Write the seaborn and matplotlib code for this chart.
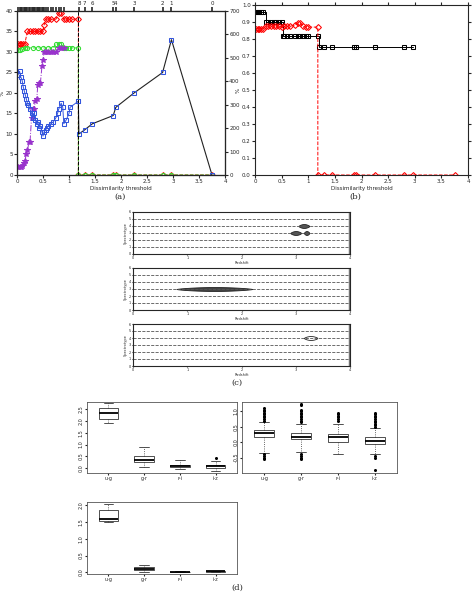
import numpy as np
import pandas as pd
import matplotlib
matplotlib.use("Agg")
import matplotlib.pyplot as plt
import seaborn as sns

sns.set_style("ticks")
plt.rcParams['font.family'] = ['DejaVu Sans']

# ---------- data (a) ----------
red_x = [0.02,0.05,0.08,0.12,0.15,0.2,0.25,0.3,0.35,0.4,0.45,0.5,0.52,0.55,0.6,0.65,0.75,0.8,0.85,0.9,0.95,1.0,1.05,1.18,1.18,1.3,1.45,1.85,1.9,2.25,2.8,2.97,3.75]
red_y = [32,32,32,32,32,35,35,35,35,35,35,35,36.5,38,38,38,38,39.5,39.5,38,38,38,38,38,0,0,0,0,0,0,0,0,0]
green_x = [0.02,0.05,0.1,0.15,0.2,0.3,0.4,0.5,0.6,0.7,0.75,0.8,0.85,0.9,0.95,1.0,1.05,1.18,1.18,1.3,1.45,1.85,1.9,2.25,2.8,2.97,3.75]
green_y = [30.5,30.5,30.8,31,31,31,31,31,31,31,32,32,32,31,31,31,31,31,0,0,0,0,0,0,0,0,0]
purple_x = [0.02,0.05,0.08,0.1,0.13,0.15,0.18,0.2,0.23,0.25,0.28,0.3,0.33,0.35,0.38,0.4,0.43,0.45,0.48,0.5,0.52,0.55,0.6,0.65,0.7,0.75,0.8,0.85,0.9]
purple_y = [2,2,2,2.2,3,3.5,5,6,8,8,14,16,16,18,18.5,22,22.5,22.5,26.5,28,30,30,30,30,30,30,31,31,31]
blue_x = [0.02,0.05,0.07,0.1,0.12,0.14,0.16,0.18,0.2,0.22,0.25,0.28,0.3,0.32,0.35,0.38,0.4,0.42,0.45,0.48,0.5,0.52,0.55,0.58,0.6,0.65,0.7,0.75,0.78,0.8,0.85,0.88,0.9,0.95,1.0,1.02,1.18]
blue_y = [24.5,25.3,24,23,21.5,20.5,19.5,18.5,17.5,17,16,15,14,15,13.5,12.5,13,11.5,12,10.5,9.5,10.5,11,11.5,12,12.5,13,14,15,16,17.5,16.5,12.5,13.5,15,16.5,18]
black_x = [1.18,1.19,1.3,1.45,1.85,1.9,2.25,2.8,2.97,3.75]
black_y = [18,10,11,12.5,14.5,16.5,20,25,33,0]
top_ticks = [1.19,1.3,1.45,1.85,1.9,2.25,2.8,2.97,3.75]
top_labels = ['8','7','6','5','4','3','2','1','0']

# ---------- data (b) ----------
bb_x = [0.02,0.05,0.08,0.12,0.15,0.2,0.25,0.3,0.35,0.4,0.45,0.5,0.52,0.55,0.6,0.65,0.75,0.8,0.85,0.9,0.95,1.0,1.18,1.2,1.3,1.45,1.85,1.9,2.25,2.8,2.97]
bb_y = [0.96,0.96,0.96,0.96,0.96,0.90,0.90,0.90,0.90,0.90,0.90,0.90,0.82,0.82,0.82,0.82,0.815,0.815,0.815,0.815,0.815,0.815,0.815,0.75,0.75,0.75,0.75,0.75,0.75,0.75,0.75]
br_x = [0.02,0.05,0.08,0.12,0.15,0.2,0.25,0.3,0.35,0.4,0.45,0.5,0.55,0.6,0.65,0.75,0.8,0.85,0.9,0.95,1.0,1.18,1.18,1.3,1.45,1.85,1.9,2.25,2.8,2.97,3.75]
br_y = [0.86,0.86,0.86,0.86,0.86,0.875,0.875,0.875,0.875,0.875,0.875,0.87,0.875,0.875,0.875,0.88,0.895,0.895,0.875,0.87,0.87,0.87,0,0,0,0,0,0,0,0,0]

# ---------- data (c) ----------
c_level = [[4,3,3],[3],[4]]
c_start = [[3.05,2.9,3.15],[0.8],[3.15]]
c_end = [[3.25,3.1,3.25],[2.2],[3.4]]
c_fill = ['#555555','#444444','#ffffff']

# ---------- data (d) ----------
cats = ['u-g','g-r','r-i','i-z']
d1 = {'u-g':[1.9,2.1,2.35,2.55,2.75],'g-r':[0.05,0.25,0.35,0.5,0.9],'r-i':[-0.05,0.05,0.1,0.15,0.35],'i-z':[-0.1,0.0,0.08,0.15,0.3]}
d1_out = {'i-z':[0.45]}
d2 = {'u-g':[-0.35,0.15,0.28,0.4,0.65],'g-r':[-0.33,0.1,0.18,0.3,0.6],'r-i':[-0.4,0.0,0.17,0.27,0.6],'i-z':[-0.4,-0.05,0.05,0.15,0.45]}
d2_out = {'u-g':[0.7,0.75,0.8,0.85,0.9,0.95,1.0,1.05,1.1,-0.4,-0.45,-0.5,-0.55],'g-r':[0.65,0.7,0.75,0.8,0.85,0.9,0.95,1.0,1.05,1.2,1.25,-0.4,-0.45,-0.5,-0.55],
          'r-i':[0.7,0.75,0.8,0.85,0.9,0.95],'i-z':[0.5,0.55,0.6,0.65,0.7,0.75,0.8,0.85,0.9,0.95,-0.45,-0.5,-0.9]}
d3 = {'u-g':[1.5,1.52,1.6,1.85,2.03],'g-r':[0.0,0.06,0.1,0.15,0.22],'r-i':[0.0,0.005,0.01,0.02,0.03],'i-z':[0.01,0.02,0.025,0.035,0.05]}

W, H = 474, 594
fig = plt.figure(figsize=(W/100, H/100), dpi=100)
def ax_at(x0, y0, x1, y1):
    return fig.add_axes([x0/W, 1-y1/H, (x1-x0)/W, (y1-y0)/H])

fs = 4
ms = 3
# ----- (a) -----
a = ax_at(17, 11, 225, 175)
sns.lineplot(x=red_x, y=red_y, ax=a, color='red', marker='D', markersize=ms, markerfacecolor='none', markeredgecolor='red', linestyle='--', lw=0.7, sort=False, estimator=None)
sns.lineplot(x=green_x, y=green_y, ax=a, color='#33dd33', marker='o', markersize=ms, markerfacecolor='none', markeredgecolor='#33dd33', linestyle='--', lw=0.7, sort=False, estimator=None)
sns.lineplot(x=purple_x, y=purple_y, ax=a, color='#9933cc', marker='*', markersize=4, markerfacecolor='#9933cc', markeredgecolor='#9933cc', linestyle='-.', lw=0.7, sort=False, estimator=None)
sns.lineplot(x=blue_x, y=blue_y, ax=a, color='#3355dd', marker='s', markersize=ms, markerfacecolor='none', markeredgecolor='#3355dd', lw=0.7, sort=False, estimator=None)
sns.lineplot(x=black_x, y=black_y, ax=a, color='#222222', marker='s', markersize=ms, markerfacecolor='none', markeredgecolor='#3355dd', lw=0.8, sort=False, estimator=None)
a.axvline(1.18, color='k', ls='--', lw=0.7)
a.set_xlim(0, 4); a.set_ylim(0, 40)
a.set_xticks([0,0.5,1,1.5,2,2.5,3,3.5,4]); a.set_xticklabels(['0','0.5','1','1.5','2','2.5','3','3.5','4'])
a.set_yticks(range(0,45,5))
a.set_xlabel('Dissimilarity threshold', fontsize=fs, labelpad=1); a.set_ylabel('%', fontsize=fs, labelpad=1)
a.tick_params(labelsize=fs, length=2, pad=1)
ar = a.twinx(); ar.set_ylim(0, 700); ar.set_yticks(range(0,701,100)); ar.tick_params(labelsize=fs, length=2, pad=1)
at = a.twiny(); at.set_xlim(0, 4)
at.set_xticks(list(np.array(purple_x)) + top_ticks)
at.set_xticklabels(['']*len(purple_x) + top_labels)
at.tick_params(labelsize=fs, length=3, pad=0.5, width=1.2)
fig.text(120/W, 1-197/H, '(a)', ha='center', va='center', fontsize=6, family='DejaVu Serif')

# ----- (b) -----
b = ax_at(255, 5, 468, 175)
sns.lineplot(x=bb_x, y=bb_y, ax=b, color='k', marker='s', markersize=ms, markerfacecolor='none', markeredgecolor='k', lw=0.7, drawstyle='steps-post', sort=False, estimator=None)
sns.lineplot(x=br_x, y=br_y, ax=b, color='red', marker='D', markersize=ms, markerfacecolor='none', markeredgecolor='red', linestyle='--', lw=0.7, sort=False, estimator=None)
b.set_xlim(0, 4); b.set_ylim(0, 1)
b.set_xticks([0,0.5,1,1.5,2,2.5,3,3.5,4]); b.set_xticklabels(['0','0.5','1','1.5','2','2.5','3','3.5','4'])
b.set_yticks(np.round(np.arange(0,1.01,0.1),1))
b.set_xlabel('Dissimilarity threshold', fontsize=fs, labelpad=1); b.set_ylabel('%', fontsize=fs, labelpad=1)
b.tick_params(labelsize=fs, length=2, pad=1, top=True, right=True)
fig.text(355/W, 1-197/H, '(b)', ha='center', va='center', fontsize=6, family='DejaVu Serif')

# ----- (c) -----
strips = [(133, 212, 350, 254), (133, 268, 350, 310), (133, 324, 350, 366)]
for i, (x0, y0, x1, y1) in enumerate(strips):
    c = ax_at(x0, y0, x1, y1)
    c.set_xlim(0, 4); c.set_ylim(0, 6)
    for lv in range(1, 6):
        c.axhline(lv, color='#555555', ls='--', lw=0.6)
    for lv, s, e in zip(c_level[i], c_start[i], c_end[i]):
        xs = np.linspace(s, e, 50)
        hw = 0.28 * np.sin(np.pi * (xs - s) / (e - s)) ** 0.7
        c.fill_between(xs, lv - hw, lv + hw, color=c_fill[i], edgecolor='#222222', lw=0.6)
    c.axvline(4, color='#777777', lw=2.5)
    c.set_xticks([0,1,2,3,4]); c.set_yticks(range(7))
    c.tick_params(labelsize=2.5, length=1, pad=0.5)
    c.set_xlabel('Redshift', fontsize=2.5, labelpad=0.5); c.set_ylabel('Spectrotype', fontsize=2.5, labelpad=0.5)
fig.text(237/W, 1-383/H, '(c)', ha='center', va='center', fontsize=6, family='DejaVu Serif')

# ----- (d) -----
def box_panel(rect, stats, outl, yt, ylim):
    ax = ax_at(*rect)
    rows = []
    for k in cats:
        mn, q1, md, q3, mx = stats[k]
        for v in [mn, q1, q1, md, q3, q3, mx]:
            rows.append((k, v))
    df = pd.DataFrame(rows, columns=['cat', 'val'])
    sns.boxplot(data=df, x='cat', y='val', order=cats, whis=(0, 100), ax=ax, color='white',
                linecolor='#333333', linewidth=0.6, width=0.55, showcaps=True,
                medianprops=dict(color='k', lw=1.3), whiskerprops=dict(ls=':'))
    orows = [(k, v) for k, vs in outl.items() for v in vs]
    if orows:
        odf = pd.DataFrame(orows, columns=['cat', 'val'])
        sns.stripplot(data=odf, x='cat', y='val', order=cats, ax=ax, jitter=False, color='k', size=2.2, marker='o')
    ax.set_xlim(-0.6, 3.6); ax.set_ylim(*ylim)
    ax.set_yticks(yt); ax.set_yticklabels([f'{v:.1f}' for v in yt], rotation=90, va='center')
    ax.set_xlabel(''); ax.set_ylabel('')
    ax.tick_params(labelsize=3.5, length=1.5, pad=1)
    for s in ax.spines.values():
        s.set_linewidth(0.6); s.set_color('#555555')
    return ax

box_panel((87, 402, 237, 473), d1, d1_out, [0, 0.5, 1.0, 1.5, 2.0, 2.5], (-0.2, 2.8))
box_panel((242, 402, 397, 473), d2, d2_out, [-0.5, 0.0, 0.5, 1.0], (-1.0, 1.3))
box_panel((87, 502, 237, 574), d3, {}, [0, 0.5, 1.0, 1.5, 2.0], (-0.05, 2.1))
fig.text(237/W, 1-588/H, '(d)', ha='center', va='center', fontsize=6, family='DejaVu Serif')

fig.savefig('out.png', dpi=100)
